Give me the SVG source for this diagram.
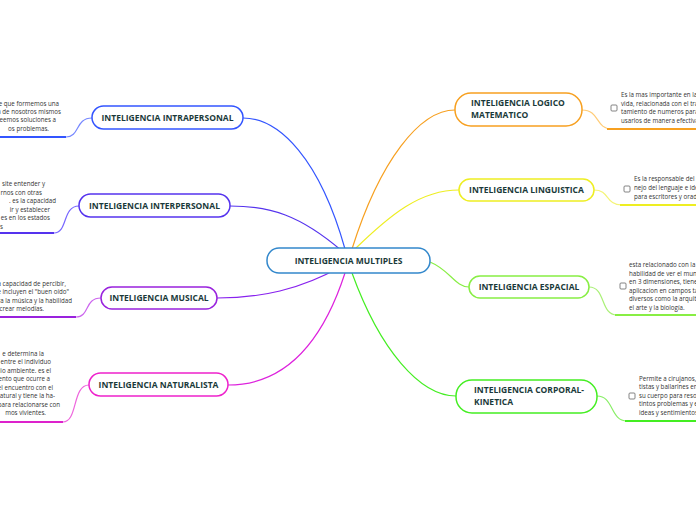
<svg xmlns="http://www.w3.org/2000/svg" width="696" height="520" viewBox="0 0 696 520">
<style>
.n{fill:#fff;stroke-width:1.5}
.t{font-family:"Open Sans","Liberation Sans",sans-serif;font-weight:bold;font-size:8.5px;fill:#1a3a3a}
.s{font-family:"Open Sans","Liberation Sans",sans-serif;font-size:6.2px;fill:#333}
.e{text-anchor:end}
.c{fill:none;stroke-width:1.2}
.u{fill:none;stroke-width:2}
.cb{fill:#fff;stroke:#666;stroke-width:0.8}
</style>
<rect width="696" height="520" fill="#fff"/>
<g id="connectors">
<path class="c" stroke="#3355ff" d="M345 249 C320 160 280 118 243 118"/>
<path class="c" stroke="#5533ee" d="M342 251 C300 215 270 206 230 206"/>
<path class="c" stroke="#8822ee" d="M342 266 C300 290 260 298 217 298"/>
<path class="c" stroke="#dd22dd" d="M345 273 C320 350 280 385 228 385"/>
<path class="c" stroke="#f7a020" d="M352 249 C380 160 420 110 455 110"/>
<path class="c" stroke="#eeee22" d="M355 249 C390 215 420 190 459 190"/>
<path class="c" stroke="#88ee44" d="M430 262 C450 270 455 287 469 287"/>
<path class="c" stroke="#44ee22" d="M352 273 C380 350 420 396 456 396"/>
<path class="c" stroke="#7788ff" d="M92 118 C75 118 80 137 66 137"/><path class="u" stroke="#3355ff" d="M0 137 H66"/>
<path class="c" stroke="#7766ff" d="M79 206 C62 206 68 233 54 233"/><path class="u" stroke="#5533ee" d="M0 233 H54"/>
<path class="c" stroke="#cc66ee" d="M101 298 C84 298 90 317 76 317"/><path class="u" stroke="#9922dd" d="M0 317 H76"/>
<path class="c" stroke="#ee66dd" d="M89 385 C72 385 78 422 63 422"/><path class="u" stroke="#dd22cc" d="M0 422 H63"/>
<path class="c" stroke="#ffcc77" d="M582 110 C600 110 595 129 612 129"/><path class="u" stroke="#f7a020" d="M607 129 H696"/>
<path class="c" stroke="#f4f477" d="M594 190 C610 190 605 205 622 205"/><path class="u" stroke="#eeee22" d="M620 205 H696"/>
<path class="c" stroke="#aaf077" d="M589 287 C606 287 600 315 617 315"/><path class="u" stroke="#88ee44" d="M615 315 H696"/>
<path class="c" stroke="#88ee66" d="M597 396 C614 396 610 421 627 421"/><path class="u" stroke="#44ee22" d="M625 421 H696"/>
</g>
<g id="center"><rect class="n" stroke="#3388cc" x="267" y="248" width="163" height="25" rx="12"/><text class="t" x="348.5" y="264" text-anchor="middle" font-size="10">INTELIGENCIA MULTIPLES</text></g>
<g id="intra"><rect class="n" stroke="#3355ff" x="92" y="106" width="151" height="23" rx="11.5"/><text class="t" x="167.5" y="121" text-anchor="middle">INTELIGENCIA INTRAPERSONAL</text>
<text class="s e" x="59" y="106">te que formemos una</text><text class="s e" x="61" y="114">n de nosotros mismos</text><text class="s e" x="56" y="122">oeemos soluciones a</text><text class="s e" x="49" y="131">os problemas.</text></g>
<g id="inter"><rect class="n" stroke="#5533ee" x="79" y="194" width="151" height="23" rx="11.5"/><text class="t" x="154.5" y="209" text-anchor="middle">INTELIGENCIA INTERPERSONAL</text>
<text class="s e" x="45" y="186">site entender y</text><text class="s e" x="42" y="195">rnos con otras</text><text class="s e" x="56" y="203">. es la capacidad</text><text class="s e" x="50" y="212">ir y establecer</text><text class="s e" x="50" y="220">es en los estados</text><text class="s e" x="3" y="229">s</text></g>
<g id="musical"><rect class="n" stroke="#9922dd" x="101" y="287" width="116" height="22" rx="11"/><text class="t" x="159" y="301" text-anchor="middle">INTELIGENCIA MUSICAL</text>
<text class="s e" x="66" y="286">la capacidad de percibir,</text><text class="s e" x="69" y="294">e incluyen el "buen oído"</text><text class="s e" x="72" y="303">ra la música y la habilidad</text><text class="s e" x="44" y="311">crear melodías.</text></g>
<g id="natur"><rect class="n" stroke="#ee22cc" x="89" y="373" width="139" height="23" rx="11.5"/><text class="t" x="158.5" y="388" text-anchor="middle">INTELIGENCIA NATURALISTA</text>
<text class="s e" x="44" y="356">e determina la</text><text class="s e" x="51" y="364">entre el individuo</text><text class="s e" x="51" y="373">dio ambiente. es el</text><text class="s e" x="50" y="381">iento que ocurre a</text><text class="s e" x="53" y="390">el encuentro con el</text><text class="s e" x="55" y="398">natural y tiene la ha-</text><text class="s e" x="60" y="407">para relacionarse con</text><text class="s e" x="46" y="415">mos vivientes.</text></g>
<g id="logico"><rect class="n" stroke="#f7a020" x="455" y="93" width="127" height="33" rx="16"/><text class="t" x="471" y="106">INTELIGENCIA LOGICO</text><text class="t" x="471" y="118">MATEMATICO</text>
<rect class="cb" x="611" y="105" width="6" height="6" rx="1"/><text class="s" x="621" y="97">Es la mas importante en la</text><text class="s" x="621" y="106">vida, relacionada con el tra</text><text class="s" x="621" y="114">tamiento de numeros para</text><text class="s" x="621" y="123">usarlos de manera efectiva</text></g>
<g id="ling"><rect class="n" stroke="#eeee22" x="459" y="179" width="135" height="22" rx="11"/><text class="t" x="526.5" y="193" text-anchor="middle">INTELIGENCIA LINGUISTICA</text>
<rect class="cb" x="624" y="186" width="6" height="6" rx="1"/><text class="s" x="634" y="181">Es la responsable del m</text><text class="s" x="634" y="190">nejo del lenguaje e ide</text><text class="s" x="634" y="199">para escritores y orad</text></g>
<g id="espacial"><rect class="n" stroke="#88ee44" x="469" y="276" width="120" height="22" rx="11"/><text class="t" x="529" y="290" text-anchor="middle">INTELIGENCIA ESPACIAL</text>
<rect class="cb" x="620" y="283" width="6" height="6" rx="1"/><text class="s" x="629" y="267">esta relacionado con la</text><text class="s" x="629" y="276">habilidad de ver el mund</text><text class="s" x="629" y="284">en 3 dimensiones, tiene</text><text class="s" x="629" y="293">aplicacion en campos ta</text><text class="s" x="629" y="301">diversos como la arquit</text><text class="s" x="629" y="310">el arte y la biología.</text></g>
<g id="corporal"><rect class="n" stroke="#44ee22" x="456" y="380" width="141" height="33" rx="16"/><text class="t" x="474" y="393">INTELIGENCIA CORPORAL-</text><text class="t" x="474" y="405">KINETICA</text>
<rect class="cb" x="629" y="393" width="6" height="6" rx="1"/><text class="s" x="639" y="381">Permite a cirujanos,</text><text class="s" x="639" y="389">tistas y bailarines em</text><text class="s" x="639" y="398">su cuerpo para resolv</text><text class="s" x="639" y="406">tintos problemas y e</text><text class="s" x="639" y="415">ideas y sentimientos.</text></g>
</svg>
